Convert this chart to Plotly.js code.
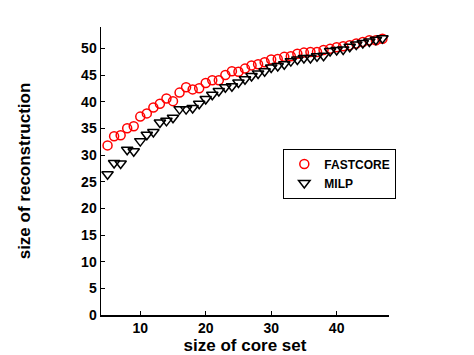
<!DOCTYPE html>
<html>
<head>
<meta charset="utf-8">
<script src="https://cdn.plot.ly/plotly-3.0.1.min.js"></script>
<style>html,body{margin:0;padding:0;background:#fff;}#chart{width:474px;height:355px;}</style>
</head>
<body>
<div id="chart"></div>
<script>
const coreSetSize = [5,6,7,8,9,10,11,12,13,14,15,16,17,18,19,20,21,22,23,24,25,26,27,28,29,30,31,32,33,34,35,36,37,38,39,40,41,42,43,44,45,46,47];
const fastcore = [31.8,33.5,33.7,35.0,35.4,37.2,37.8,38.9,39.6,40.6,40.1,41.7,42.7,42.3,42.5,43.5,44.0,44.0,45.0,45.7,45.6,46.2,46.8,47.0,47.4,47.9,48.0,48.4,48.5,49.0,49.2,49.3,49.3,49.7,49.9,50.2,50.4,50.6,50.9,51.2,51.5,51.5,51.8];
const milp = [26.4,28.5,28.4,31.0,30.7,32.6,33.8,34.3,36.1,36.4,37.0,38.6,38.6,38.8,39.6,40.5,41.3,42.0,42.7,42.9,43.6,44.2,44.8,45.3,45.7,46.4,46.7,47.0,47.6,47.9,48.2,48.2,48.5,48.6,49.5,49.7,49.8,50.3,50.7,51.0,51.3,51.6,51.9];
const xTicks = [10,20,30,40];
const yTicks = [0,5,10,15,20,25,30,35,40,45,50];

const font = {family: '"Liberation Sans", Arial, sans-serif', color: '#000', weight: 'bold'};

const traces = [
  {x: coreSetSize, y: fastcore, name: 'FASTCORE', type: 'scatter', mode: 'markers',
   marker: {symbol: 'circle-open', size: 9, color: '#ff0000', line: {width: 1.5, color: '#ff0000'}}},
  {x: coreSetSize, y: milp, name: 'MILP', type: 'scatter', mode: 'markers',
   marker: {symbol: 'triangle-down-open', size: 10, color: '#000', line: {width: 1.5, color: '#000'}}}
];

const layout = {
  width: 474, height: 355,
  margin: {l: 101, r: 85, t: 27, b: 40, pad: 0},
  paper_bgcolor: '#fff', plot_bgcolor: '#fff',
  font: Object.assign({}, font, {size: 13}),
  showlegend: true,
  legend: {x: 0.633, y: 0.578, xanchor: 'left', yanchor: 'top',
    bordercolor: '#000', borderwidth: 1, bgcolor: '#fff',
    font: Object.assign({}, font, {size: 12}), tracegroupgap: 0, itemwidth: 30},
  xaxis: {range: [4, 48], tickvals: xTicks, ticktext: xTicks.map(String),
    ticks: 'inside', ticklen: 4, tickwidth: 1, tickcolor: '#000',
    showline: true, linecolor: '#000', linewidth: 1.5, showgrid: false, zeroline: false, mirror: false,
    tickfont: Object.assign({}, font, {size: 14}),
    title: {text: 'size of core set', font: Object.assign({}, font, {size: 17}), standoff: 1}},
  yaxis: {range: [0, 54], tickvals: yTicks, ticktext: yTicks.map(String),
    ticks: 'inside', ticklen: 4, tickwidth: 1, tickcolor: '#000',
    showline: true, linecolor: '#000', linewidth: 1.5, showgrid: false, zeroline: false, mirror: false,
    tickfont: Object.assign({}, font, {size: 14}),
    title: {text: 'size of reconstruction', font: Object.assign({}, font, {size: 17}), standoff: 46}}
};

Plotly.newPlot('chart', traces, layout, {displayModeBar: false, staticPlot: true});
</script>
</body>
</html>
